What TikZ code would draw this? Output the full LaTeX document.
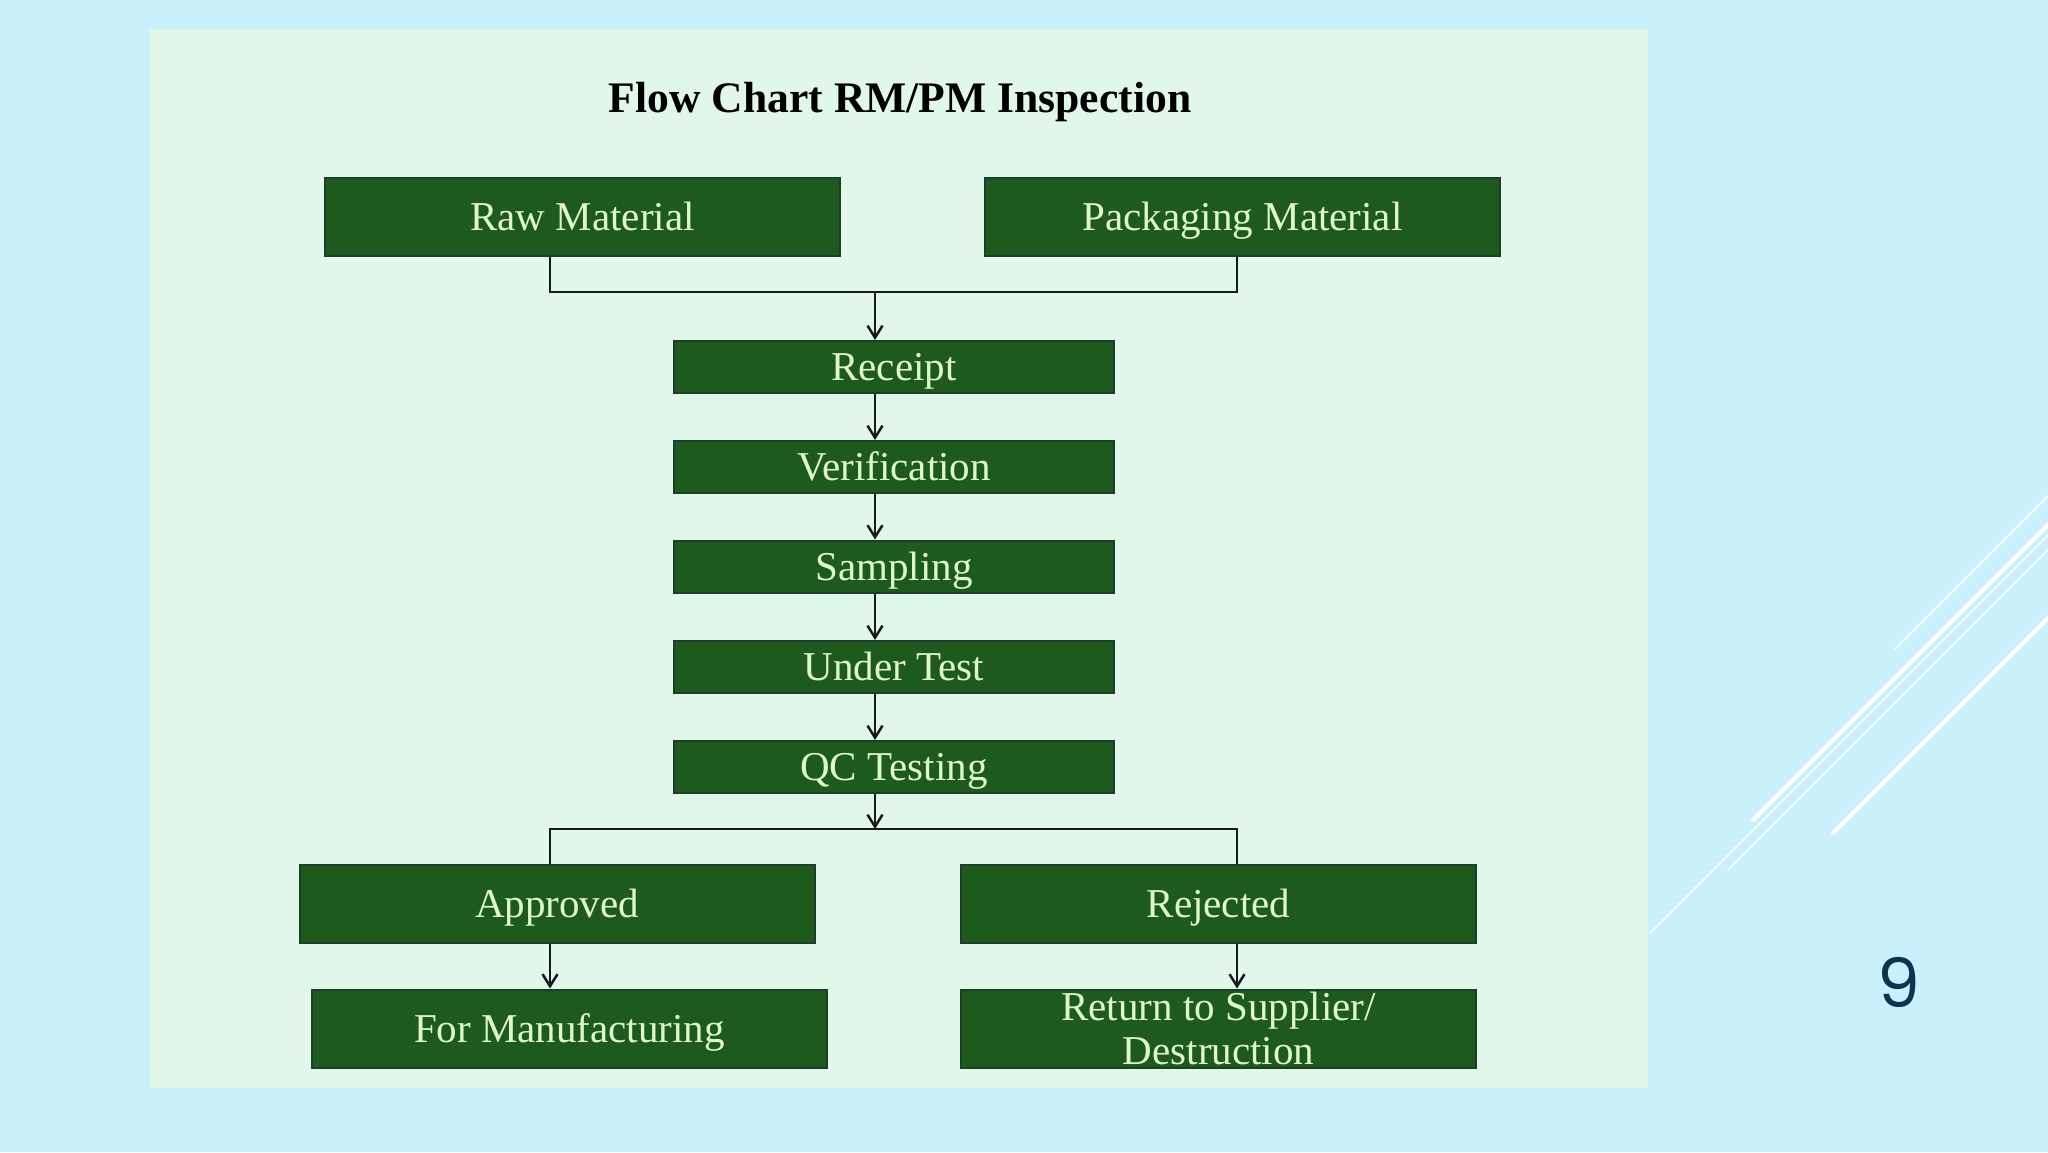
\documentclass[tikz,border=0pt]{standalone}
\usepackage{fontspec}
\setmainfont{Liberation Serif}
\newfontfamily\numfont{Poppins}
\usetikzlibrary{arrows.meta}
\definecolor{bgblue}{HTML}{C9F0FC}
\definecolor{panel}{HTML}{E1F7EA}
\definecolor{boxgreen}{HTML}{1E5A1E}
\definecolor{boxedge}{HTML}{1A3D2C}
\definecolor{boxtext}{HTML}{DFF7CD}
\definecolor{numblue}{HTML}{0D3350}
\tikzset{
  stepbox/.style={draw=boxedge, line width=1pt, fill=boxgreen, text=boxtext,
    inner sep=0pt, font=\fontsize{20.5}{22}\selectfont},
  oneline/.style={text height=13.5pt, text depth=0pt},
  bigbox/.style={stepbox, minimum width=257.5pt, minimum height=39pt},
  midbox/.style={stepbox, minimum width=220pt, minimum height=26pt},
  link/.style={draw=black!90, line width=1.25pt},
  arr/.style={link, -{Straight Barb[length=6pt,width=7.5pt]}},
  thinline/.style={draw=white, line width=0.75pt, line cap=round},
  thickline/.style={draw=white, line width=2pt, line cap=round},
}
\begin{document}
\begin{tikzpicture}[x=0.5pt,y=-0.5pt]
\fill[bgblue] (0,0) rectangle (2048,1152);
\useasboundingbox (0,0) rectangle (2048,1152);
\fill[panel] (150,29) rectangle (1648,1088);

% decorative lines
\draw[thinline] (1894,650) -- (2060,484);
\draw[thickline] (1753,820) -- (2060,513);
\draw[thinline] (1650,933) -- (2060,523);
\draw[thinline] (1728,870) -- (2060,538);
\draw[thickline] (1833,833) -- (2060,606);

% title
\node[font=\fontsize{21.8}{24}\selectfont\bfseries, anchor=base] (title) at (900,112) {Flow Chart RM/PM Inspection};

% boxes
\node[bigbox, oneline] (raw) at (582.5,217) {Raw Material};
\node[bigbox, oneline] (pack) at (1242.5,217) {Packaging Material};
\node[midbox, oneline] (receipt) at (894,367) {Receipt};
\node[midbox, oneline] (verif) at (894,467) {Verification};
\node[midbox, oneline] (sampl) at (894,566.5) {Sampling};
\node[midbox, oneline] (under) at (894,667) {Under Test};
\node[midbox, oneline] (qc) at (894,767) {QC Testing};
\node[bigbox, oneline] (approved) at (557,904) {Approved};
\node[bigbox, oneline] (rejected) at (1218.5,904) {Rejected};
\node[bigbox, oneline] (formfg) at (569.5,1028.5) {For Manufacturing};
\node[bigbox, align=center] (return) at (1218.5,1028.5) {Return to Supplier/\\Destruction};

% page number
\node[font=\numfont\fontsize{34}{40}\selectfont, text=numblue] (pagenum) at (1899,982) {9};

% connector helpers
\coordinate (lefttap) at (550,0);
\coordinate (righttap) at (1237,0);
\coordinate (topjoin) at (875,292);
\coordinate (split) at (875,829);

\draw[link] (raw.south -| lefttap) |- (topjoin) -| (pack.south -| righttap);
\draw[arr] (topjoin) -- (receipt.north -| topjoin);
\draw[arr] (receipt.south -| topjoin) -- (verif.north -| topjoin);
\draw[arr] (verif.south -| topjoin) -- (sampl.north -| topjoin);
\draw[arr] (sampl.south -| topjoin) -- (under.north -| topjoin);
\draw[arr] (under.south -| topjoin) -- (qc.north -| topjoin);
\draw[arr] (qc.south -| split) -- (split);
\draw[link] (approved.north -| lefttap) |- (split) -| (rejected.north -| righttap);
\draw[arr] (approved.south -| lefttap) -- (formfg.north -| lefttap);
\draw[arr] (rejected.south -| righttap) -- (return.north -| righttap);
\end{tikzpicture}
\end{document}
